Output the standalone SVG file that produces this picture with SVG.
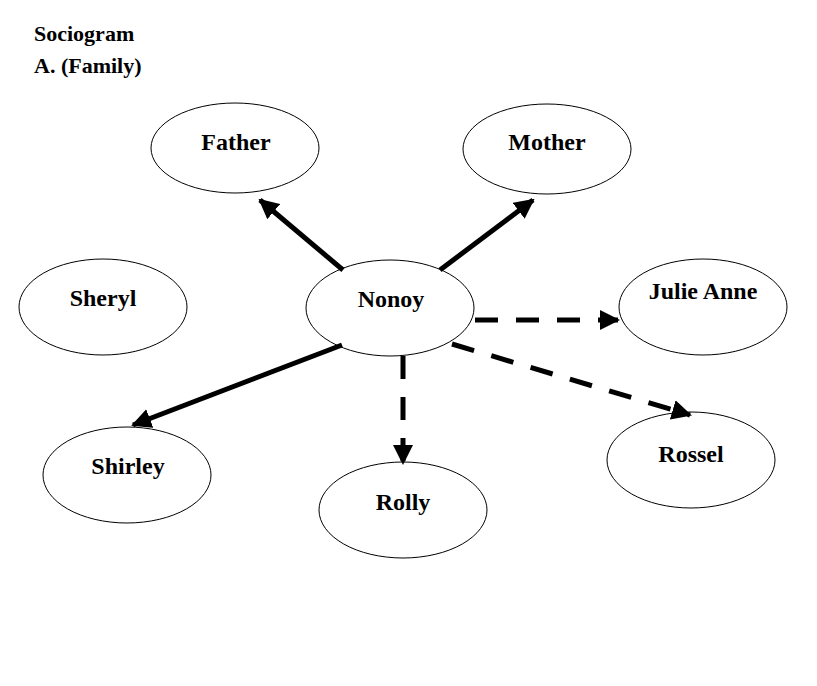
<svg xmlns="http://www.w3.org/2000/svg" width="817" height="686" viewBox="0 0 817 686">
<style>
.n{fill:#fff;stroke:#000;stroke-width:1}
.t{font-family:"Liberation Serif",serif;font-weight:bold;font-size:24px;text-anchor:middle}
.c{stroke:#000;stroke-width:5;fill:none}
.d{stroke-dasharray:23 18}
</style>
<defs><marker id="a" viewBox="0 0 10 10" refX="9" refY="5" markerWidth="4" markerHeight="4" orient="auto" markerUnits="strokeWidth"><path d="M0,0L10,5L0,10z"/></marker></defs>
<rect width="817" height="686" fill="#fff"/>
<text x="34" y="41" font-family="Liberation Serif,serif" font-weight="bold" font-size="22">Sociogram</text>
<text x="34" y="73" font-family="Liberation Serif,serif" font-weight="bold" font-size="22">A. (Family)</text>
<g id="father"><ellipse class="n" cx="235" cy="148" rx="84" ry="45"/><text class="t" x="236" y="150">Father</text></g>
<g id="mother"><ellipse class="n" cx="547" cy="149" rx="84" ry="45"/><text class="t" x="547" y="150">Mother</text></g>
<g id="sheryl"><ellipse class="n" cx="103" cy="307" rx="84" ry="48"/><text class="t" x="103" y="306">Sheryl</text></g>
<g id="nonoy"><ellipse class="n" cx="390" cy="308" rx="84" ry="48"/><text class="t" x="391" y="307">Nonoy</text></g>
<g id="julie"><ellipse class="n" cx="703" cy="307" rx="84" ry="48"/><text class="t" x="703" y="299" font-size="18">Julie Anne</text></g>
<g id="shirley"><ellipse class="n" cx="127" cy="475" rx="84" ry="48"/><text class="t" x="128" y="474">Shirley</text></g>
<g id="rolly"><ellipse class="n" cx="403" cy="510" rx="84" ry="48"/><text class="t" x="403" y="510">Rolly</text></g>
<g id="rossel"><ellipse class="n" cx="691" cy="460" rx="84" ry="48"/><text class="t" x="691" y="462">Rossel</text></g>
<g id="connectors">
<line class="c" x1="343" y1="270" x2="260" y2="200" marker-end="url(#a)"/>
<line class="c" x1="440" y1="270" x2="533" y2="200" marker-end="url(#a)"/>
<line class="c" x1="342" y1="345" x2="133" y2="425" marker-end="url(#a)"/>
<line class="c d" x1="403" y1="356" x2="403" y2="463" marker-end="url(#a)"/>
<line class="c d" x1="475" y1="320" x2="618" y2="320" marker-end="url(#a)"/>
<line class="c d" x1="452" y1="344" x2="690" y2="415" marker-end="url(#a)"/>
</g>
</svg>
